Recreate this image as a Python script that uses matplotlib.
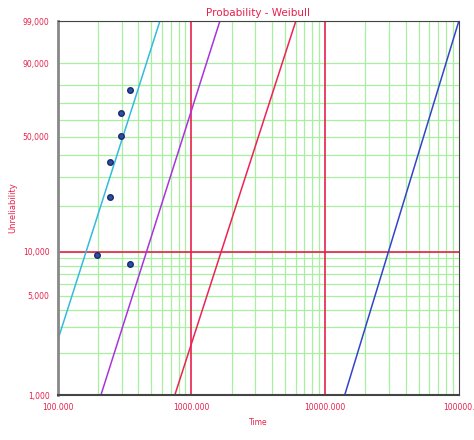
import numpy as np
import matplotlib.pyplot as plt
from matplotlib.ticker import FixedLocator, NullFormatter

# fitted lines: (t at low F, low F %, t at high F, high F %)
line_colors = ["#33bbdd", "#aa33dd", "#ee2255", "#3344cc"]
line_t0 = [100, 210, 750, 14000]
line_f0 = [2.45, 1, 1, 1]
line_t1 = [580, 1630, 6030, 100000]
line_f1 = [99, 99, 99, 99]

# data points
pt_t = [196, 346, 245, 245, 296, 296, 346]
pt_f = [9.5, 8.2, 22.7, 36.7, 50.3, 64.0, 77.4]

y_ticks = [1, 5, 10, 50, 90, 99]
y_labels = ["1,000", "5,000", "10,000", "50,000", "90,000", "99,000"]
x_ticks = [100, 1000, 10000, 100000]
x_labels = ["100.000", "1000.000", "10000.000", "100000."]
y_grid = [1, 2, 3, 4, 5, 6, 7, 8, 9, 10, 20, 30, 40, 50, 60, 70, 80, 90, 99]


def w(f):
    f = np.asarray(f) / 100.0
    return np.log(-np.log(1 - f))


red = "#e8204a"
fig = plt.figure(figsize=(4.74, 4.4), dpi=100)
ax = fig.add_axes([0.122, 0.102, 0.846, 0.85])
ax.set_xscale("log")
ax.set_xlim(100, 100000)
ax.set_ylim(w(1), w(99))

for g in y_grid:
    ax.axhline(w(g), color="#a8f0a0", lw=0.9, zorder=0)
minor = [m * 10 ** e for e in (2, 3, 4) for m in range(2, 10)]
for g in minor:
    ax.axvline(g, color="#a8f0a0", lw=0.9, zorder=0)
ax.axhline(w(10), color=red, lw=1.2, zorder=1)
for g in (1000, 10000):
    ax.axvline(g, color=red, lw=1.2, zorder=1)

for c, t0, f0, t1, f1 in zip(line_colors, line_t0, line_f0, line_t1, line_f1):
    ax.plot([t0, t1], [w(f0), w(f1)], color=c, lw=1.1, zorder=2)

ax.scatter(pt_t, w(pt_f), s=16, color="#2d4fa0", edgecolor="#1a2a70", zorder=3)

ax.yaxis.set_major_locator(FixedLocator(w(y_ticks)))
ax.set_yticklabels(y_labels)
ax.xaxis.set_major_locator(FixedLocator(x_ticks))
ax.set_xticklabels(x_labels)
ax.xaxis.set_minor_formatter(NullFormatter())
ax.tick_params(which="both", length=0, labelsize=5.5, colors=red, pad=6)
for s in ax.spines.values():
    s.set_color("#444444")
ax.spines["left"].set_color("#888888")
ax.spines["left"].set_linewidth(2)
ax.spines["bottom"].set_linewidth(1.5)

ax.set_title("Probability - Weibull", color=red, fontsize=7.5, pad=4)
ax.set_xlabel("Time", color=red, fontsize=5.5)
ax.set_ylabel("Unreliability", color=red, fontsize=6)

fig.savefig("out.png", dpi=100)
